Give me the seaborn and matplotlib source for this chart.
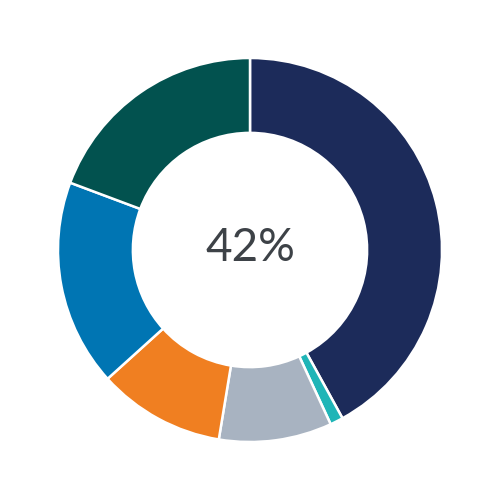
import matplotlib
matplotlib.use("Agg")
import matplotlib.pyplot as plt
import seaborn as sns

segments = ["Navy", "Teal", "Gray", "Orange", "Blue", "Green"]
shares = [42, 1.1, 9.5, 10.7, 17.4, 19.3]
colors = ["#1c2b5a", "#1fb5b7", "#a8b3c1", "#f07f21", "#0075b3", "#02524f"]
center_label = "42%"

sns.set_theme(style="white")
plt.rcParams['font.family'] = ['Lato', 'DejaVu Sans']

fig = plt.figure(figsize=(5, 5), dpi=100)
ax = fig.add_axes([0, 0, 1, 1])

ax.pie(shares, colors=colors, startangle=90, counterclock=False,
       wedgeprops=dict(width=0.39, edgecolor="white", linewidth=1.8))

ax.text(0, 0.01, center_label, ha="center", va="center",
        fontsize=33, color="#3d4247", fontweight="normal")

lim = 1.302
ax.set_xlim(-lim, lim)
ax.set_ylim(-lim, lim)
ax.set_aspect("equal")
ax.axis("off")

fig.savefig("out.png", dpi=100, facecolor="white")
